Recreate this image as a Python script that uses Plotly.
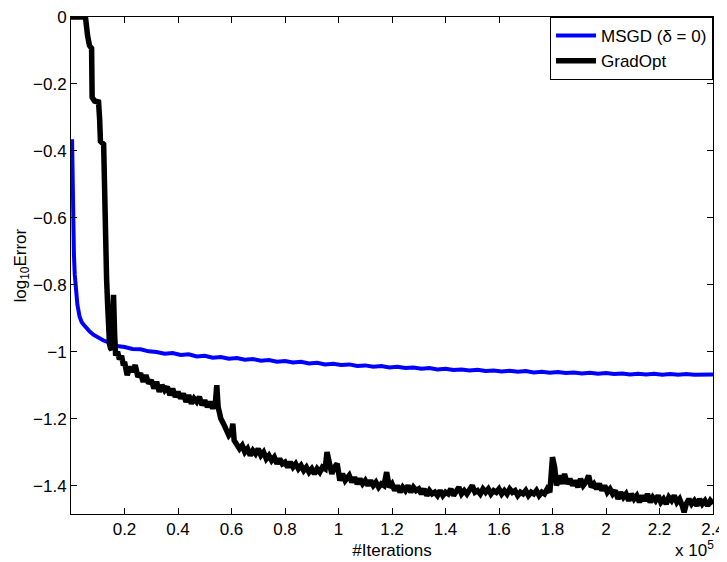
import plotly.graph_objects as go

# iterations in units of 1e5, error as log10
msgd_x = [0.004, 0.005, 0.006, 0.008, 0.011, 0.014, 0.018, 0.024, 0.032, 0.040,
          0.050, 0.060, 0.070, 0.085, 0.100, 0.120, 0.140, 0.160, 0.180, 0.200,
          0.230, 0.260, 0.290, 0.320, 0.350, 0.380, 0.410, 0.440, 0.470, 0.500,
          0.530, 0.560, 0.590, 0.620, 0.650, 0.680, 0.710, 0.740, 0.770, 0.800,
          0.830, 0.860, 0.890, 0.920, 0.950, 0.980, 1.010, 1.040, 1.070, 1.100,
          1.130, 1.160, 1.190, 1.220, 1.250, 1.280, 1.310, 1.340, 1.370, 1.400,
          1.430, 1.460, 1.490, 1.520, 1.550, 1.580, 1.610, 1.640, 1.670, 1.700,
          1.730, 1.760, 1.790, 1.820, 1.850, 1.880, 1.910, 1.940, 1.970, 2.000,
          2.030, 2.060, 2.090, 2.120, 2.150, 2.180, 2.210, 2.240, 2.270, 2.300,
          2.330, 2.360, 2.400]
msgd_y = [-0.365, -0.45, -0.56, -0.64, -0.71, -0.77, -0.815, -0.86, -0.895, -0.912,
          -0.922, -0.932, -0.940, -0.950, -0.958, -0.966, -0.972, -0.980, -0.984, -0.986,
          -0.992, -0.993, -0.999, -1.001, -1.006, -1.004, -1.010, -1.008, -1.014, -1.012,
          -1.018, -1.016, -1.021, -1.019, -1.024, -1.022, -1.027, -1.025, -1.030, -1.028,
          -1.032, -1.030, -1.035, -1.033, -1.038, -1.036, -1.040, -1.038, -1.043, -1.041,
          -1.045, -1.043, -1.047, -1.045, -1.049, -1.047, -1.051, -1.049, -1.053, -1.051,
          -1.055, -1.053, -1.056, -1.054, -1.058, -1.056, -1.059, -1.057, -1.060, -1.058,
          -1.062, -1.060, -1.063, -1.061, -1.064, -1.062, -1.065, -1.063, -1.066, -1.064,
          -1.067, -1.065, -1.068, -1.066, -1.068, -1.066, -1.069, -1.067, -1.069, -1.067,
          -1.069, -1.068, -1.068]

gradopt_x = [0.000, 0.054, 0.062, 0.069, 0.077, 0.079, 0.088, 0.103, 0.107, 0.110,
             0.122, 0.125, 0.129, 0.133, 0.137, 0.140, 0.144, 0.148, 0.152, 0.155,
             0.159, 0.163, 0.167, 0.174, 0.181, 0.189, 0.196,
             0.200, 0.210, 0.220, 0.230, 0.240, 0.250, 0.260, 0.270, 0.280, 0.290,
             0.300, 0.310, 0.320, 0.330, 0.340, 0.350, 0.360, 0.370, 0.380, 0.390,
             0.400, 0.410, 0.420, 0.430, 0.440, 0.450, 0.460, 0.470, 0.480, 0.490,
             0.500, 0.510, 0.520, 0.530, 0.540, 0.545, 0.550, 0.560, 0.570, 0.580,
             0.590, 0.600, 0.605, 0.610, 0.620, 0.630, 0.640, 0.650, 0.660, 0.670,
             0.680, 0.690, 0.700, 0.710, 0.720, 0.730, 0.740, 0.750, 0.760, 0.770,
             0.780, 0.790, 0.800, 0.810, 0.820, 0.830, 0.840, 0.850, 0.860, 0.870,
             0.880, 0.890, 0.900, 0.910, 0.920, 0.930, 0.940, 0.950, 0.957, 0.965,
             0.975, 0.985, 0.995, 1.005, 1.015, 1.025, 1.040, 1.050, 1.060, 1.070,
             1.080, 1.090, 1.100, 1.110, 1.120, 1.130, 1.140, 1.150, 1.160, 1.170,
             1.180, 1.190, 1.200, 1.210, 1.220, 1.230, 1.240, 1.250, 1.260, 1.270,
             1.280, 1.290, 1.300, 1.310, 1.320, 1.330, 1.340, 1.350, 1.360, 1.370,
             1.380, 1.390, 1.400, 1.410, 1.420, 1.430, 1.440, 1.450, 1.460, 1.470,
             1.480, 1.490, 1.500, 1.510, 1.520, 1.530, 1.540, 1.550, 1.560, 1.570,
             1.580, 1.590, 1.600, 1.610, 1.620, 1.630, 1.640, 1.650, 1.660, 1.670,
             1.680, 1.690, 1.700, 1.710, 1.720, 1.730, 1.740, 1.750, 1.760, 1.770,
             1.780, 1.790, 1.795, 1.800, 1.808, 1.815, 1.825, 1.835, 1.845, 1.855,
             1.865, 1.875, 1.885, 1.895, 1.905, 1.915, 1.925, 1.935, 1.945, 1.955,
             1.965, 1.975, 1.985, 1.995, 2.005, 2.015, 2.025, 2.035, 2.045, 2.055,
             2.065, 2.075, 2.085, 2.095, 2.105, 2.115, 2.125, 2.135, 2.145, 2.155,
             2.165, 2.175, 2.185, 2.195, 2.205, 2.215, 2.225, 2.235, 2.245, 2.255,
             2.265, 2.275, 2.285, 2.292, 2.300, 2.310, 2.320, 2.330, 2.340, 2.350,
             2.360, 2.370, 2.380, 2.390, 2.400]
gradopt_y = [0.000, 0.000, -0.056, -0.085, -0.094, -0.240, -0.251, -0.254, -0.304, -0.371,
             -0.380, -0.567, -0.713, -0.781, -0.860, -0.947, -0.977, -0.990, -0.994, -0.918,
             -0.830, -0.947, -1.012, -1.000, -1.023, -1.012, -1.041,
             -1.030, -1.070, -1.045, -1.060, -1.040, -1.075, -1.065, -1.090, -1.070, -1.095,
             -1.085, -1.110, -1.090, -1.120, -1.100, -1.115, -1.105, -1.130, -1.110, -1.135,
             -1.120, -1.140, -1.125, -1.150, -1.130, -1.155, -1.140, -1.150, -1.135, -1.160,
             -1.145, -1.165, -1.150, -1.170, -1.150, -1.100, -1.165, -1.200, -1.215, -1.235,
             -1.250, -1.240, -1.215, -1.265, -1.275, -1.290, -1.280, -1.300, -1.290, -1.310,
             -1.295, -1.305, -1.290, -1.310, -1.300, -1.320, -1.310, -1.325, -1.315, -1.335,
             -1.320, -1.335, -1.330, -1.345, -1.330, -1.345, -1.335, -1.350, -1.340, -1.355,
             -1.345, -1.360, -1.350, -1.365, -1.350, -1.360, -1.345, -1.350, -1.300, -1.340,
             -1.365, -1.345, -1.335, -1.385, -1.365, -1.385, -1.370, -1.390, -1.375, -1.395,
             -1.380, -1.395, -1.385, -1.400, -1.385, -1.400, -1.390, -1.405, -1.395, -1.400,
             -1.360, -1.405, -1.395, -1.415, -1.400, -1.420, -1.405, -1.415, -1.400, -1.420,
             -1.405, -1.415, -1.410, -1.425, -1.410, -1.430, -1.415, -1.425, -1.420, -1.430,
             -1.415, -1.430, -1.420, -1.425, -1.410, -1.430, -1.420, -1.405, -1.425, -1.415,
             -1.425, -1.410, -1.400, -1.420, -1.415, -1.425, -1.410, -1.420, -1.410, -1.425,
             -1.415, -1.420, -1.410, -1.425, -1.415, -1.425, -1.410, -1.420, -1.415, -1.430,
             -1.420, -1.425, -1.415, -1.430, -1.420, -1.425, -1.415, -1.430, -1.420, -1.425,
             -1.410, -1.420, -1.330, -1.315, -1.345, -1.400, -1.370, -1.395, -1.365, -1.395,
             -1.380, -1.400, -1.385, -1.405, -1.380, -1.400, -1.390, -1.370, -1.405, -1.395,
             -1.410, -1.395, -1.415, -1.400, -1.420, -1.410, -1.425, -1.415, -1.440, -1.420,
             -1.435, -1.425, -1.445, -1.425, -1.440, -1.430, -1.450, -1.430, -1.445, -1.425,
             -1.450, -1.435, -1.445, -1.430, -1.450, -1.440, -1.455, -1.435, -1.445, -1.430,
             -1.450, -1.440, -1.460, -1.480, -1.455, -1.440, -1.455, -1.445, -1.460, -1.440,
             -1.455, -1.445, -1.460, -1.445, -1.455]

x_ticks = [0.2, 0.4, 0.6, 0.8, 1.0, 1.2, 1.4, 1.6, 1.8, 2.0, 2.2, 2.4]
y_ticks = [0, -0.2, -0.4, -0.6, -0.8, -1.0, -1.2, -1.4]

font = dict(family="Liberation Sans, Arial, sans-serif", size=17, color="black")

fig = go.Figure()
fig.add_trace(go.Scatter(x=msgd_x, y=msgd_y, mode="lines", name="MSGD (δ = 0)",
                         line=dict(color="#0000ff", width=4)))
fig.add_trace(go.Scatter(x=gradopt_x, y=gradopt_y, mode="lines", name="GradOpt",
                         line=dict(color="black", width=5.5)))

axis_common = dict(showline=True, linecolor="black", linewidth=1, mirror="ticks",
                   ticks="inside", ticklen=6, tickcolor="black", showgrid=False,
                   zeroline=False, tickfont=font, ticklabeloverflow="allow",
                   automargin=False)
fig.update_xaxes(range=[0, 2.4], tickvals=x_ticks,
                 title=dict(text="#Iterations", font=font, standoff=5), **axis_common)
fig.update_yaxes(range=[-1.485, 0], tickvals=y_ticks, **axis_common)

# y title as annotation so it can sit closer to the left edge
fig.add_annotation(x=0, y=0.5, xref="paper", yref="paper", xanchor="left", yanchor="middle",
                   xshift=-63, textangle=-90, text="log<sub>10</sub>Error",
                   showarrow=False, font=font)

# the page body adds an 8px offset, so the figure is a bit smaller than the window
fig.add_annotation(x=1, y=0, xref="paper", yref="paper", xanchor="right", yanchor="middle",
                   xshift=3, yshift=-35, text="x 10<sup>5</sup>", showarrow=False, font=font)

fig.update_layout(
    width=719, height=554,
    margin=dict(l=63, r=14, t=9, b=48),
    paper_bgcolor="white", plot_bgcolor="white",
    font=font,
    legend=dict(x=1, y=1, xanchor="right", yanchor="top", bgcolor="white",
                bordercolor="black", borderwidth=1, font=font, itemwidth=40),
)

fig.write_html("out.html")
